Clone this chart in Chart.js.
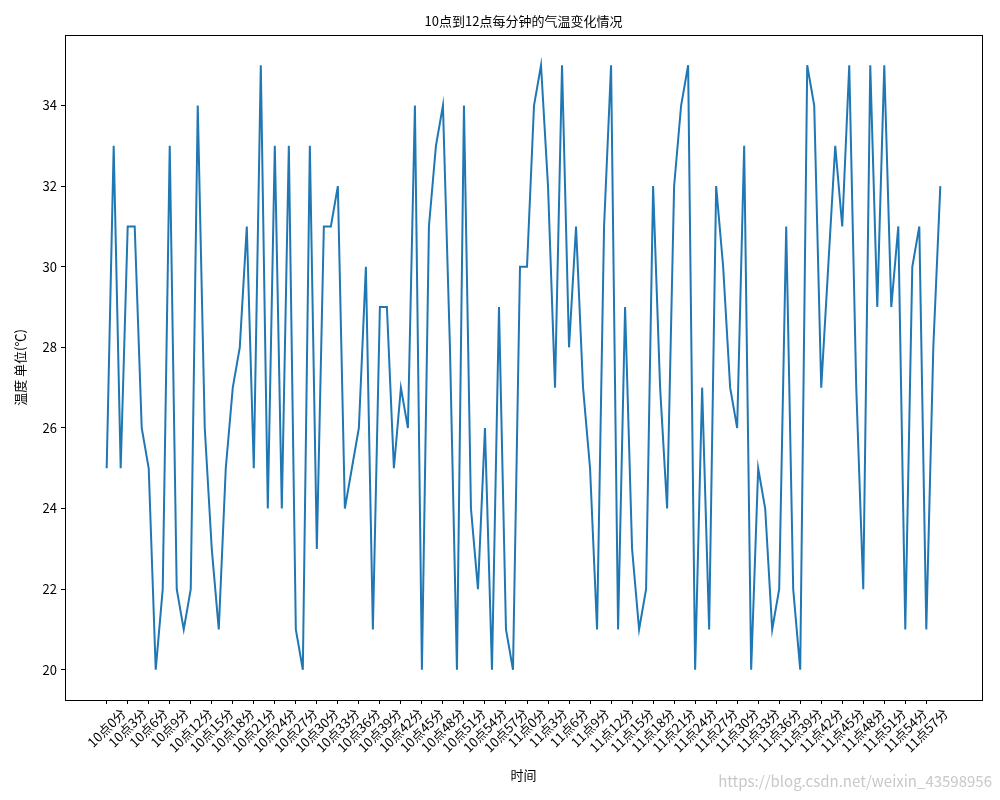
<!DOCTYPE html>
<html>
<head>
<meta charset="utf-8">
<script src="https://cdn.jsdelivr.net/npm/chart.js@4"></script>
<style>body{margin:0;background:#fff}</style>
</head>
<body>
<canvas id="chart" width="1000" height="800"></canvas>
<script>
// temperature per minute, 10:00 - 11:59
var temps = [25,33,25,31,31,26,25,20,22,33,22,21,22,34,26,23,21,25,27,28,
	31,25,35,24,33,24,33,21,20,33,23,31,31,32,24,25,26,30,21,29,
	29,25,27,26,34,20,31,33,34,28,20,34,24,22,26,20,29,21,20,30,
	30,34,35,32,27,35,28,31,27,25,21,31,35,21,29,23,21,22,32,27,
	24,32,34,35,20,27,21,32,30,27,26,33,20,25,24,21,22,31,22,20,
	35,34,27,30,33,31,35,27,22,35,29,35,29,31,21,30,31,21,28,32];
var minuteLabels = [];
for (var i = 0; i < temps.length; i++) {
	minuteLabels.push((10 + Math.floor(i / 60)) + '点' + (i % 60) + '分');
}
var yTicks = [20,22,24,26,28,30,32,34];

var font = '"Noto Sans CJK SC", "DejaVu Sans", sans-serif';
var points = temps.map(function(v, i) { return {x: i, y: v}; });

var textPlugin = {
	id: 'texts',
	afterDraw: function(chart) {
		var ctx = chart.ctx, a = chart.chartArea, xs = chart.scales.x;
		ctx.save();
		ctx.strokeStyle = '#000';
		ctx.lineWidth = 1;
		ctx.strokeRect(a.left + 0.5, a.top + 0.5, a.right - a.left, a.bottom - a.top);
		ctx.fillStyle = '#000';
		ctx.textAlign = 'center';
		ctx.textBaseline = 'middle';
		// x tick labels, rotated 45 and centred on the tick
		ctx.font = '13px ' + font;
		for (var i = 0; i < temps.length; i += 3) {
			var lbl = minuteLabels[i];
			var w = ctx.measureText(lbl).width;
			var box = (w + 14) / Math.SQRT2;
			ctx.save();
			ctx.translate(xs.getPixelForValue(i), a.bottom + 6 + box / 2);
			ctx.rotate(-Math.PI / 4);
			ctx.fillText(lbl, 0, 0);
			ctx.restore();
		}
		ctx.fillText('10点到12点每分钟的气温变化情况', (a.left + a.right) / 2, 21);
		ctx.fillText('时间', (a.left + a.right) / 2, 775);
		ctx.save();
		ctx.translate(20, (a.top + a.bottom) / 2);
		ctx.rotate(-Math.PI / 2);
		ctx.fillText('温度 单位(℃)', 0, 0);
		ctx.restore();
		ctx.fillStyle = '#c8c8c8';
		ctx.textAlign = 'right';
		ctx.font = '15px ' + font;
		ctx.fillText('https://blog.csdn.net/weixin_43598956', 992, 781);
		ctx.restore();
	}
};

new Chart(document.getElementById('chart'), {
	type: 'line',
	data: {
		datasets: [{
			data: points,
			borderColor: '#1f77b4',
			borderWidth: 2,
			pointRadius: 0,
			tension: 0,
			fill: false
		}]
	},
	options: {
		responsive: false,
		animation: false,
		layout: {padding: {left: 0, right: 18, top: 35, bottom: 0}},
		plugins: {legend: {display: false}, tooltip: {enabled: false}},
		scales: {
			x: {
				type: 'linear',
				min: -5.95,
				max: 124.95,
				afterBuildTicks: function(s) {
					var t = [];
					for (var i = 0; i < temps.length; i += 3) t.push({value: i});
					s.ticks = t;
				},
				afterFit: function(s) { s.height = 100; },
				grid: {drawOnChartArea: false, tickLength: 4, color: '#000'},
				border: {display: false},
				ticks: {display: false, autoSkip: false}
			},
			y: {
				min: 19.25,
				max: 35.75,
				afterBuildTicks: function(s) {
					s.ticks = yTicks.map(function(v) { return {value: v}; });
				},
				afterFit: function(s) { s.width = 65; },
				grid: {drawOnChartArea: false, tickLength: 4, color: '#000'},
				border: {display: false},
				ticks: {color: '#000', font: {family: font, size: 13}, padding: 4}
			}
		}
	},
	plugins: [textPlugin]
});
</script>
</body>
</html>
